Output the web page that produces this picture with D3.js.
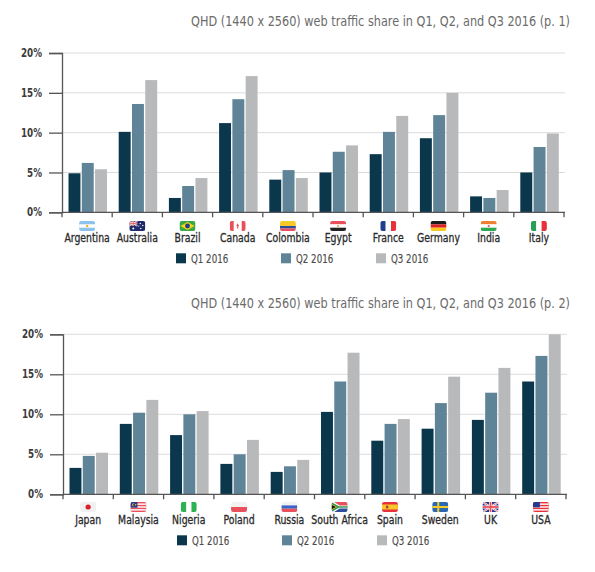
<!DOCTYPE html>
<html>
<head>
<meta charset="utf-8">
<script src="https://cdn.jsdelivr.net/npm/d3@7/dist/d3.min.js"></script>
<style>
  html, body { margin: 0; padding: 0; background: #fff; }
  svg { display: block; }
  text { font-family: "DejaVu Sans Condensed", "DejaVu Sans", sans-serif; }
</style>
</head>
<body>
<svg id="chart" width="595" height="572"></svg>
<script>
// ---------- DATA ----------
const seriesNames = ["Q1 2016", "Q2 2016", "Q3 2016"];
const yTicks = [0, 5, 10, 15, 20];
const yTickLabels = ["0%", "5%", "10%", "15%", "20%"];

const title1 = "QHD (1440 x 2560) web traffic share in Q1, Q2, and Q3 2016 (p. 1)";
const countries1 = ["Argentina", "Australia", "Brazil", "Canada", "Colombia", "Egypt", "France", "Germany", "India", "Italy"];
const q1Page1 = [4.9, 10.1, 1.8, 11.2, 4.1, 5.0, 7.3, 9.3, 2.0, 5.0];
const q2Page1 = [6.2, 13.6, 3.3, 14.2, 5.3, 7.6, 10.1, 12.2, 1.8, 8.2];
const q3Page1 = [5.4, 16.6, 4.3, 17.1, 4.3, 8.4, 12.1, 15.0, 2.8, 9.9];

const title2 = "QHD (1440 x 2560) web traffic share in Q1, Q2, and Q3 2016 (p. 2)";
const countries2 = ["Japan", "Malaysia", "Nigeria", "Poland", "Russia", "South Africa", "Spain", "Sweden", "UK", "USA"];
const q1Page2 = [3.3, 8.8, 7.4, 3.8, 2.8, 10.3, 6.7, 8.2, 9.3, 14.1];
const q2Page2 = [4.8, 10.2, 10.0, 5.0, 3.5, 14.1, 8.8, 11.4, 12.7, 17.3];
const q3Page2 = [5.2, 11.8, 10.4, 6.8, 4.3, 17.7, 9.4, 14.7, 15.8, 20.0];

// ---------- STYLE ----------
const colors = ["#0b374d", "#5f8497", "#b8b9bb"];

const svg = d3.select("#chart");
let clipId = 0;

function drawFlag(g, name) {
  const w = 16, h = 10;
  const id = "fc" + (clipId++);
  g.append("clipPath").attr("id", id)
    .append("rect").attr("width", w).attr("height", h).attr("rx", 2.2);
  const f = g.append("g").attr("clip-path", `url(#${id})`);
  const R = (x, y, ww, hh, c) => f.append("rect").attr("x", x).attr("y", y).attr("width", ww).attr("height", hh).attr("fill", c);
  const C = (x, y, r, c) => f.append("circle").attr("cx", x).attr("cy", y).attr("r", r).attr("fill", c);
  const P = (pts, c) => f.append("polygon").attr("points", pts).attr("fill", c);
  const L = (x1, y1, x2, y2, c, sw) => f.append("line").attr("x1", x1).attr("y1", y1).attr("x2", x2).attr("y2", y2).attr("stroke", c).attr("stroke-width", sw);
  switch (name) {
    case "Argentina":
      R(0, 0, w, h, "#8cc3ec"); R(0, 3.3, w, 3.4, "#ffffff"); C(8, 5, 1.2, "#f5b323"); break;
    case "Australia":
      R(0, 0, w, h, "#1f2a6b");
      L(0, 0, 8, 5, "#fff", 1.4); L(8, 0, 0, 5, "#fff", 1.4);
      L(0, 0, 8, 5, "#e8505b", 0.6); L(8, 0, 0, 5, "#e8505b", 0.6);
      R(3.2, 0, 1.6, 5, "#fff"); R(0, 1.7, 8, 1.6, "#fff");
      R(3.6, 0, 0.8, 5, "#e8505b"); R(0, 2.1, 8, 0.8, "#e8505b");
      C(4, 7.6, 1, "#fff"); C(11, 2.5, 0.7, "#fff"); C(13.5, 4.5, 0.7, "#fff"); C(11.5, 7.5, 0.7, "#fff"); C(9.5, 5, 0.6, "#fff");
      break;
    case "Brazil":
      R(0, 0, w, h, "#3aa845"); P("8,1 15,5 8,9 1,5", "#f7d417"); C(8, 5, 2.4, "#1f3f8c"); break;
    case "Canada":
      R(0, 0, w, h, "#e8505b"); R(4, 0, 8, h, "#ffffff");
      P("8,2.2 9.4,5 8.6,5 8.6,7.4 7.4,7.4 7.4,5 6.6,5", "#e8505b"); break;
    case "Colombia":
      R(0, 0, w, 5, "#f7c928"); R(0, 5, w, 2.5, "#2e4c9c"); R(0, 7.5, w, 2.5, "#e8505b"); break;
    case "Egypt":
      R(0, 0, w, 3.4, "#e8505b"); R(0, 3.4, w, 3.3, "#ffffff"); R(0, 6.7, w, 3.3, "#222222"); C(8, 5, 0.9, "#c99a2e"); break;
    case "France":
      R(0, 0, 5.4, h, "#233d8e"); R(5.4, 0, 5.3, h, "#ffffff"); R(10.7, 0, 5.3, h, "#e8313b"); break;
    case "Germany":
      R(0, 0, w, 3.4, "#1a1a1a"); R(0, 3.4, w, 3.3, "#dd1f26"); R(0, 6.7, w, 3.3, "#f8c71e"); break;
    case "India":
      R(0, 0, w, 3.4, "#f07f32"); R(0, 3.4, w, 3.3, "#ffffff"); R(0, 6.7, w, 3.3, "#2fa84f"); C(8, 5, 1.1, "#e8505b"); break;
    case "Italy":
      R(0, 0, 5.4, h, "#27a055"); R(5.4, 0, 5.3, h, "#ffffff"); R(10.7, 0, 5.3, h, "#e8313b"); break;
    case "Japan":
      R(0, 0, w, h, "#f0f0f0"); C(8, 5, 2.6, "#d81f2a"); break;
    case "Malaysia":
      R(0, 0, w, h, "#e8505b");
      for (let i = 1; i < 7; i += 2) R(0, i * 10 / 7, w, 10 / 7, "#ffffff");
      R(0, 0, 7, 5.7, "#273a8c"); C(3.2, 2.8, 1.5, "#f7c928"); C(3.8, 2.8, 1.2, "#273a8c"); C(5.2, 2.8, 0.8, "#f7c928");
      break;
    case "Nigeria":
      R(0, 0, w, h, "#2eb153"); R(5.4, 0, 5.3, h, "#ffffff"); break;
    case "Poland":
      R(0, 0, w, 5, "#f2f2f2"); R(0, 5, w, 5, "#e8505b"); break;
    case "Russia":
      R(0, 0, w, 3.4, "#f2f2f2"); R(0, 3.4, w, 3.3, "#3b64c6"); R(0, 6.7, w, 3.3, "#e8505b"); break;
    case "South Africa":
      R(0, 0, w, 5, "#e8505b"); R(0, 5, w, 5, "#2e4c9c");
      P("0,0 2.5,0 8,3.6 16,3.6 16,6.4 8,6.4 2.5,10 0,10", "#ffffff");
      P("0,1 1.5,1 7.2,4.2 16,4.2 16,5.8 7.2,5.8 1.5,9 0,9", "#2f9a4f");
      P("0,2 5.5,5 0,8", "#f7c928");
      P("0,2.8 4.3,5 0,7.2", "#1a1a1a");
      break;
    case "Spain":
      R(0, 0, w, h, "#e8313b"); R(0, 2.5, w, 5, "#f7c928"); R(4, 3.6, 2.4, 2.8, "#b5423a"); break;
    case "Sweden":
      R(0, 0, w, h, "#2a68b3"); R(5, 0, 2, h, "#f7c928"); R(0, 4, w, 2, "#f7c928"); break;
    case "UK":
      R(0, 0, w, h, "#273a8c");
      L(0, 0, w, h, "#fff", 2); L(w, 0, 0, h, "#fff", 2);
      L(0, 0, w, h, "#e8505b", 0.8); L(w, 0, 0, h, "#e8505b", 0.8);
      R(6.5, 0, 3, h, "#fff"); R(0, 3.5, w, 3, "#fff");
      R(7.1, 0, 1.8, h, "#e8505b"); R(0, 4.1, w, 1.8, "#e8505b");
      break;
    case "USA":
      R(0, 0, w, h, "#e8313b");
      for (let i = 1; i < 7; i += 2) R(0, i * 10 / 7, w, 10 / 7, "#ffffff");
      R(0, 0, 7, 5.4, "#273a8c");
      break;
  }
}

function drawPanel(cfg, title, countries, s1, s2, s3) {
  const data = countries.map((c, i) => ({ country: c, values: [s1[i], s2[i], s3[i]] }));
  const g = svg.append("g");

  const x = d3.scaleBand().domain(countries).range([cfg.left, cfg.right]).padding(0);
  const xi = d3.scaleBand().domain(seriesNames).range([6.5, 45]).paddingInner(0.1).paddingOuter(0);
  const y = d3.scaleLinear().domain([0, 20]).range([cfg.y0, cfg.yTop]);

  // title
  g.append("text").attr("transform", `translate(570,${cfg.titleY}) scale(0.93,1)`).attr("text-anchor", "end")
    .attr("font-size", 13.5).attr("fill", "#6b6b6b").text(title);

  // gridlines
  g.append("g").selectAll("line").data(yTicks.filter(t => t > 0)).join("line")
    .attr("x1", cfg.left).attr("x2", cfg.right + 1)
    .attr("y1", d => y(d)).attr("y2", d => y(d))
    .attr("stroke", "#dcdcdc").attr("stroke-width", 1);

  // bars
  const grp = g.append("g").selectAll("g").data(data).join("g")
    .attr("transform", d => `translate(${x(d.country)},0)`);
  grp.selectAll("rect").data(d => d.values.map((v, k) => ({ v, k }))).join("rect")
    .attr("x", d => xi(seriesNames[d.k]))
    .attr("width", xi.bandwidth())
    .attr("y", d => y(d.v))
    .attr("height", d => y(0) - y(d.v))
    .attr("fill", d => colors[d.k]);

  // y axis
  const yAxis = d3.axisLeft(y).tickValues(yTicks).tickFormat((d, i) => yTickLabels[i])
    .tickSize(13).tickPadding(7);
  const ya = g.append("g").attr("transform", `translate(${cfg.left},0)`).call(yAxis);
  ya.select(".domain").attr("stroke", "#555").attr("stroke-width", 1.3);
  ya.selectAll(".tick line").attr("stroke", "#555").attr("stroke-width", 1.3);
  ya.selectAll(".tick text")
    .attr("transform", "translate(-20,0) scale(0.85,1)").attr("x", 0)
    .attr("font-size", 11.5).attr("font-weight", "bold").attr("fill", "#3b3b3b")
    .style("font-family", '"DejaVu Sans Condensed", "DejaVu Sans", sans-serif');

  // x axis
  const xa = g.append("g");
  xa.append("line").attr("x1", cfg.left).attr("x2", cfg.right + 1).attr("y1", y(0)).attr("y2", y(0))
    .attr("stroke", "#555").attr("stroke-width", 1.3);
  const bounds = countries.map(c => x(c)).concat([x.range()[1]]);
  xa.selectAll("line.tk").data(bounds).join("line").attr("class", "tk")
    .attr("x1", d => d).attr("x2", d => d).attr("y1", y(0)).attr("y2", y(0) + 5)
    .attr("stroke", "#555").attr("stroke-width", 1.3);

  // flags + labels
  const lab = g.append("g").selectAll("g").data(countries).join("g")
    .attr("transform", c => `translate(${x(c) + x.bandwidth() / 2},${y(0)})`);
  lab.each(function (c) {
    const fg = d3.select(this).append("g").attr("transform", `translate(-8,${cfg.flagDy})`);
    drawFlag(fg, c);
  });
  lab.append("text").attr("transform", "translate(0,30) scale(0.83,1)").attr("text-anchor", "middle")
    .attr("font-size", 12.5).attr("fill", "#2a2a2a")
    .attr("stroke", "#2a2a2a").attr("stroke-width", 0.3).text(c => c);

  // legend
  const lg = g.append("g").selectAll("g").data(seriesNames).join("g")
    .attr("transform", (d, i) => `translate(${cfg.legendX[i]},${y(0) + 41})`);
  lg.append("rect").attr("width", 10).attr("height", 10).attr("fill", (d, i) => colors[i]);
  lg.append("text").attr("transform", "translate(15,9.5) scale(0.84,1)").attr("font-size", 11.5)
    .attr("fill", "#4a4a4a").attr("stroke", "#4a4a4a").attr("stroke-width", 0.15).text(d => d);
}

drawPanel({ left: 62, right: 564, y0: 212.3, yTop: 53, titleY: 26, flagDy: 8.7, legendX: [176, 281, 376] },
  title1, countries1, q1Page1, q2Page1, q3Page1);
drawPanel({ left: 63, right: 566, y0: 494.3, yTop: 334.3, titleY: 308, flagDy: 7.7, legendX: [177, 282, 377] },
  title2, countries2, q1Page2, q2Page2, q3Page2);
</script>
</body>
</html>
